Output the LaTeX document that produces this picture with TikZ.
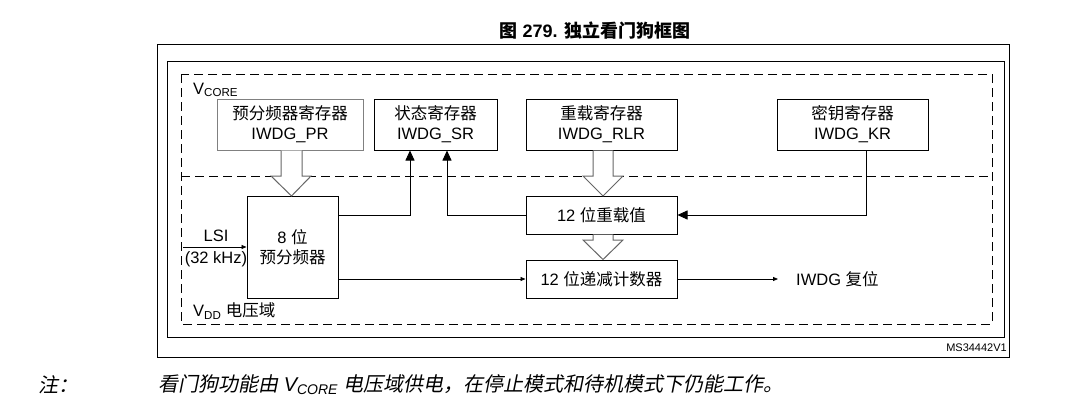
\documentclass[tikz,border=0pt]{standalone}
\usepackage{fontspec}
\setmainfont{Liberation Sans}
\newfontfamily\cjk{Noto Sans CJK SC}
\newfontfamily\cjkit[FakeSlant=0.2]{Noto Sans CJK SC}
\newfontfamily\latit{Liberation Sans Italic}
\usetikzlibrary{arrows.meta}
\begin{document}
\begin{tikzpicture}[x=1pt,y=-1pt,
  box/.style={draw,line width=1pt,inner sep=0pt,align=center,font=\fontsize{16.5}{20}\selectfont},
  conn/.style={line width=0.8pt,-{Triangle[length=10pt,width=9pt]}},
  thin/.style={line width=0.8pt,-{Triangle[length=5pt,width=4pt]}},
  hollow/.style={draw=gray!80!black,fill=white,line width=1pt},
  lbl/.style={inner sep=0pt,font=\fontsize{16.5}{20}\selectfont}]
\useasboundingbox (0,0) rectangle (1069,402);
% frames
\draw[line width=1pt] (157,44) rectangle (1009,357);
\draw[line width=1pt] (167,61) rectangle (1004,337);
\draw[dashed,line width=1pt,dash pattern=on 9pt off 5pt] (181,74) rectangle (992,324);
\draw[dashed,line width=1pt,dash pattern=on 9pt off 5pt] (181,176) -- (992,176);
% title
\node[lbl,font=\fontsize{18}{20}\selectfont\bfseries] (title) at (595,31) {{\cjk\bfseries 图} 279. {\cjk\bfseries 独立看门狗框图}};
\node[lbl,anchor=west] (vcore) at (193,90) {V\textsubscript{CORE}};
\node[lbl,anchor=west] (vdd) at (193,311) {V\textsubscript{DD} {\cjk 电压域}};
% registers
\node[box,draw=gray,minimum width=146pt,minimum height=51pt] (pr) at (290,124.5) {{\cjk 预分频器寄存器}\\IWDG\_PR};
\node[box,minimum width=123pt,minimum height=51pt] (sr) at (435.5,124.5) {{\cjk 状态寄存器}\\IWDG\_SR};
\node[box,minimum width=151pt,minimum height=51pt] (rlr) at (601.5,124.5) {{\cjk 重载寄存器}\\IWDG\_RLR};
\node[box,minimum width=151pt,minimum height=51pt] (kr) at (852.5,124.5) {{\cjk 密钥寄存器}\\IWDG\_KR};
% lower blocks
\node[box,minimum width=91pt,minimum height=102pt] (pre) at (292.5,247) {8 {\cjk 位}\\{\cjk 预分频器}};
\node[box,minimum width=151pt,minimum height=38pt] (rv) at (601.5,215) {12 {\cjk 位重载值}};
\node[box,minimum width=151pt,minimum height=38pt] (cnt) at (601.5,279) {12 {\cjk 位递减计数器}};
% hollow arrows
\draw[hollow] (281,150.5) -- (281,176) -- (271,176) -- (291.5,196) -- (311,176) -- (302,176) -- (302,150.5);
\draw[hollow] (593,150.5) -- (593,176) -- (583,176) -- (603,196) -- (623,176) -- (613,176) -- (613,150.5);
\draw[hollow] (593,234.5) -- (593,240) -- (583,240) -- (603,259.5) -- (623,240) -- (613,240) -- (613,234.5);
% connectors
\draw[conn] (pre.east |- 0,215) -| (sr.south -| 410,0);
\draw[conn] (rv.west) -| (sr.south -| 447,0);
\draw[conn] (kr.south -| 866,0) |- (rv.east);
\draw[thin] (pre.east |- 0,279) -- (cnt.west);
\coordinate (rst) at (778,279);
\draw[thin] (cnt.east) -- (rst);
\node[lbl,anchor=west] (rstl) at (796,279) {IWDG {\cjk 复位}};
\coordinate (lsiin) at (183,247);
\draw[thin] (lsiin) -- (pre.west |- 0,247);
\node[lbl] (lsi) at (216,236) {LSI};
\node[lbl] (khz) at (216,259) {(32 kHz)};
\node[lbl,anchor=east,font=\fontsize{11}{12}\selectfont] (ms) at (1007,348) {MS34442V1};
% note
\node[lbl,anchor=west,font=\fontsize{20}{22}\selectfont] (note) at (38,385) {\cjkit 注：};
\node[lbl,anchor=west,font=\fontsize{20}{22}\selectfont] (notet) at (158,385) {{\cjkit 看门狗功能由} {\latit V\textsubscript{CORE}} {\cjkit 电压域供电，在停止模式和待机模式下仍能工作。}};
\end{tikzpicture}
\end{document}
